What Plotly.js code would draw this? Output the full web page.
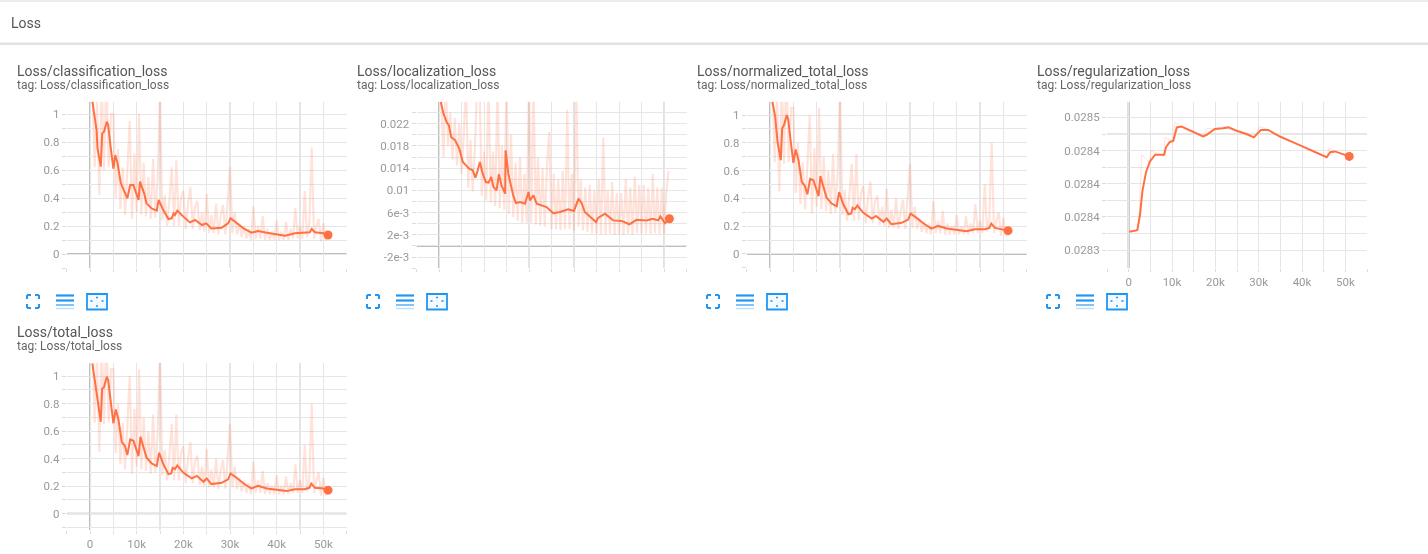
<!DOCTYPE html>
<html><head><meta charset="utf-8">
<script src="https://cdn.plot.ly/plotly-3.0.1.min.js"></script>
<style>html,body{margin:0;padding:0;background:#fff;overflow:hidden}#chart{width:1428px;height:554px;filter:blur(0.45px)}</style>
</head><body><div id="chart"></div>
<script>
// ---------- shared raw step positions (thousands of steps) ----------
const rawSteps = [0,.5,1,1.5,2,2.5,3,3.5,4,4.5, 5,5.5,6,6.5,7,7.5,8,8.5,9,9.5,
  10,10.5,11,11.5,12,12.5,13,13.5,14,14.5, 15,15.5,16,16.5,17,17.5,18,18.5,19,19.5,
  20,20.5,21,21.5,22,22.5,23,23.5,24,24.5, 25,25.5,26,26.5,27,27.5,28,28.5,29,29.5,
  30,30.5,31,31.5,32,32.5,33,33.5,34,34.5, 35,35.5,36,36.5,37,37.5,38,38.5,39,39.5,
  40,40.5,41,41.5,42,42.5,43,43.5,44,44.5, 45,45.5,46,46.5,47,47.5,48,48.5,49,49.5,
  50,50.5,51];

// ---------- classification_loss ----------
const classRaw = [1.25,1.2,.62,1.1,.42,1.25,.6,1.3,.62,1.0, 1.0,.4,.75,.32,.62,.28,.6,.95,.25,.72,
  .3,1.0,.28,.65,.27,.55,.25,.68,.26,.55, 1.15,.24,.42,.2,.38,.62,.2,.67,.2,.4,
  .45,.18,.36,.48,.18,.34,.38,.17,.3,.16, .43,.15,.28,.15,.36,.14,.27,.35,.14,.4,
  .62,.15,.3,.14,.22,.12,.2,.11,.18,.1, .34,.11,.2,.11,.27,.1,.18,.1,.16,.1,
  .24,.1,.16,.1,.23,.1,.18,.11,.33,.11, .2,.11,.45,.12,.22,.76,.11,.2,.25,.09,
  .22,.1,.14];
const classX = [.5,.9,1.4,1.6,2.3,2.6,3,3.6,3.9,4.4,5,5.4,5.9,6.6,7.3,8,8.6,9.3,9.9,10.4,10.7,11.6,12.1,13.2,14.3,14.7,15.7,16.8,17.5,17.9,18.2,18.7,20,21.4,22.5,24,24.9,26,28.2,29.6,30.1,31.4,32.9,34.6,36,37.9,40,41.8,43.9,46,47.1,47.5,48.2,50,51];
const classY = [1.09,.98,.886,.755,.624,.862,.874,.945,.92,.767,.61,.707,.648,.505,.457,.398,.493,.493,.433,.386,.517,.433,.362,.326,.31,.386,.314,.25,.255,.29,.279,.31,.267,.226,.243,.207,.219,.183,.188,.219,.255,.219,.183,.152,.164,.152,.14,.131,.148,.155,.155,.179,.155,.148,.136];

// ---------- localization_loss ----------
const locRaw = [.03,.026,.016,.03,.018,.024,.0155,.023,.0145,.022, .013,.02,.03,.0105,.019,.0098,.018,.03,.03,.009,
  .017,.0082,.03,.0078,.017,.0072,.03,.0068,.018,.0065, .03,.0058,.02,.0052,.015,.0045,.016,.0042,.013,.0042,
  .03,.0042,.03,.0038,.016,.0036,.014,.0034,.0145,.0205, .003,.013,.003,.012,.0028,.0135,.003,.0245,.003,.013,
  .0028,.03,.0035,.012,.0028,.0105,.0025,.011,.0023,.01, .0022,.012,.0021,.0195,.0021,.01,.0022,.0115,.002,.0095,
  .0021,.0095,.002,.012,.0022,.0105,.002,.0125,.0023,.011, .0022,.011,.0023,.0105,.0022,.013,.0023,.0105,.0022,.0105,
  .0022,.0095,.0135];
const locX = [.4,1,1.7,2.2,2.7,3.6,4.5,5.3,6,6.7,7.5,8.1,8.6,9.1,9.6,10.4,11,11.6,12.1,12.8,13.3,13.9,14.7,14.8,15.4,16.5,17.1,18,19.1,19.9,20.2,21,21.7,22.8,23.9,25.4,26.9,28.7,30,31,31.7,32.4,34.9,35.4,36.9,38.7,40.6,42.3,43.9,46.1,47.5,48.7,49.2,50.2,51.2];
const locY = [.0259,.0238,.0223,.0217,.0196,.019,.0175,.0151,.0145,.0139,.0136,.0123,.0136,.0151,.0133,.0115,.0114,.0124,.0106,.01,.0129,.0109,.0094,.0172,.013,.0091,.0077,.0079,.0076,.0097,.0082,.0091,.0076,.0073,.007,.0059,.0061,.0066,.0063,.0085,.0077,.0061,.0043,.0051,.0058,.0046,.0045,.0039,.0047,.0046,.0049,.0046,.0053,.0041,.0049];

// ---------- normalized_total_loss / total_loss ----------
const totalRaw = [1.3,1.25,.66,1.15,.45,1.3,.65,1.35,.66,1.05, 1.05,.44,.8,.36,.66,.32,.64,1.0,.29,.76,
  .34,1.05,.32,.7,.31,.6,.29,.72,.3,.6, 1.2,.28,.46,.24,.42,.65,.24,.72,.24,.44,
  .49,.22,.4,.52,.22,.38,.42,.21,.34,.2, .47,.19,.32,.19,.4,.18,.31,.39,.18,.44,
  .65,.19,.34,.18,.26,.16,.24,.15,.22,.14, .38,.15,.24,.15,.31,.14,.22,.14,.2,.14,
  .28,.14,.2,.14,.27,.14,.22,.15,.36,.15, .24,.15,.5,.16,.26,.8,.15,.24,.3,.13,
  .26,.13,.17];
const normX = [.5,1.1,1.6,2.3,2.6,3,3.6,3.9,4.4,5,5.5,6.1,6.8,7.5,8,8.6,9.3,10,10.4,10.8,11.6,12.1,13.2,14.3,14.8,15.7,16.8,17.4,17.7,18.2,18.7,20,21.8,22.7,24.3,25,26,28.2,29.6,30.1,31.4,32.9,34.6,36,37.9,40,42.1,43.9,46,47,47.4,48.2,50,51];
const normY = [1.096,.988,.808,.675,.904,.928,1.0,.969,.82,.656,.752,.675,.519,.488,.43,.541,.531,.447,.416,.56,.471,.406,.363,.344,.445,.358,.286,.291,.332,.322,.349,.296,.255,.274,.231,.255,.214,.224,.248,.291,.26,.219,.183,.202,.183,.171,.163,.178,.178,.188,.219,.188,.178,.168];
const totalX = [.5,1,1.6,2.3,2.6,3,3.6,3.9,4.4,5,5.5,6.1,6.8,7.5,8,8.6,9.3,10,10.4,10.8,11.6,12.1,13.2,14.3,14.8,15.7,16.8,17.4,17.7,18.2,18.7,20,21.8,22.9,24.3,25,26,28.2,29.6,30.1,31.4,32.9,34.6,36,37.9,40,42.1,43.9,46,47,47.4,48.2,50,51];
const totalY = [1.09,.97,.825,.667,.91,.92,.995,.97,.825,.655,.757,.68,.522,.49,.425,.539,.529,.449,.417,.558,.473,.408,.364,.345,.442,.359,.286,.291,.333,.323,.35,.296,.255,.274,.231,.255,.214,.223,.248,.291,.26,.218,.182,.201,.182,.17,.163,.177,.177,.187,.218,.187,.182,.17];

// ---------- regularization_loss ----------
const regRawX = [0,2,2.5,3,4.8,5.2,8,8.4,10.2,10.6,12.2,13.4,17.2,18.2,19.9,22.2,24.9,28.9,30.2,32.2,34.9,38,41,44.2,45.7,46.2,47.6,50.9];
const regRawY = [.028342,.028344,.028372,.028435,.028425,.02844,.028433,.028456,.02845,.028474,.028469,.028466,.028456,.028467,.028466,.028469,.028464,.028455,.028469,.028465,.028457,.02845,.028443,.028435,.028431,.028443,.028439,.028433];
const regX = [.15,2,2.6,3.2,4,4.9,6.1,7.2,8.2,8.6,9.4,10.3,11.1,12.2,13.4,15.3,17.2,18,19.9,21.8,23,24.9,27.2,28.9,30.5,32.2,34.9,38,41,44.2,45.7,46.5,47.6,50.9];
const regY = [.028342,.028344,.028362,.028392,.028414,.028427,.028435,.028435,.028435,.028444,.02845,.028452,.028468,.028469,.028466,.028461,.028457,.028459,.028466,.028467,.028468,.028464,.02846,.028456,.028465,.028465,.028457,.02845,.028443,.028435,.028432,.028438,.028439,.028433];

// ---------- axis ticks ----------
const stepTicks = [-5000,0,5000,10000,15000,20000,25000,30000,35000,40000,45000,50000,55000];
const stepLabels = ["","0","","10k","","20k","","30k","","40k","","50k",""];
const stepBlank = ["","","","","","","","","","","","",""];
const lossTicks = [-.1,0,.1,.2,.3,.4,.5,.6,.7,.8,.9,1];
const lossLabels = ["","0","","0.2","","0.4","","0.6","","0.8","","1"];
const locTicks = [-.004,-.002,0,.002,.004,.006,.008,.01,.012,.014,.016,.018,.02,.022,.024];
const locLabels = ["","-2e-3","","2e-3","","6e-3","","0.01","","0.014","","0.018","","0.022",""];
const regTicks = [.02832,.02834,.02836,.02838,.0284,.02842,.02844,.02846,.02848];
const regLabels = ["0.0283","","0.0284","","0.0284","","0.0284","","0.0285"];

const names = ["classification_loss","localization_loss","normalized_total_loss","regularization_loss","total_loss"];
const darkSteps = [[0,15,30,45],[20,30,50],[0,15,30,45],[],[0,15,30,45]];

const W = 1428, H = 554;
const fx = p => p / W, fy = p => 1 - p / H;
const panels = [
  {left:66.7, right:346.7, top:101.7, bottom:268.3, yr:[-.102,1.088], yt:lossTicks, yl:lossLabels, xl:stepBlank, rawX:rawSteps, raw:classRaw, sx:classX, sy:classY, tx:15, ty:71, rawW:2.1},
  {left:416.5,right:686.5, top:101.7, bottom:268.3, yr:[-.00402,.02595], yt:locTicks, yl:locLabels, xl:stepBlank, rawX:rawSteps, raw:locRaw, sx:locX, sy:locY, tx:355, ty:71, rawW:2.1},
  {left:746.7,right:1026.7,top:101.7, bottom:268.3, yr:[-.103,1.096], yt:lossTicks, yl:lossLabels, xl:stepBlank, rawX:rawSteps, raw:totalRaw, sx:normX, sy:normY, tx:695, ty:71, rawW:2.1},
  {left:1107, right:1367,  top:101.7, bottom:268.3, yr:[.028298,.028499], yt:regTicks, yl:regLabels, xl:stepLabels, rawX:regRawX, raw:regRawY, sx:regX, sy:regY, tx:1035, ty:71, rawW:1},
  {left:66.7, right:346.7, top:362.7, bottom:530,   yr:[-.12,1.097], yt:lossTicks, yl:lossLabels, xl:stepLabels, rawX:rawSteps, raw:totalRaw, sx:totalX, sy:totalY, tx:15, ty:332, rawW:2.1}
];

const ORANGE = '#ff7043';
const traces = [], annotations = [], shapes = [];
const layout = {width:W, height:H, margin:{l:0,r:0,t:0,b:0}, paper_bgcolor:'#fff', plot_bgcolor:'#fff', showlegend:false,
  font:{family:'Roboto, sans-serif'}};

// header bands and title
shapes.push({type:'rect',xref:'paper',yref:'paper',x0:0,x1:1,y0:fy(2),y1:fy(0),fillcolor:'#ececec',line:{width:0},layer:'below'});
shapes.push({type:'rect',xref:'paper',yref:'paper',x0:0,x1:1,y0:fy(45),y1:fy(42.5),fillcolor:'#e2e2e2',line:{width:0},layer:'below'});
annotations.push({text:'Loss',xref:'paper',yref:'paper',x:fx(9),y:fy(23),xanchor:'left',yanchor:'middle',showarrow:false,font:{size:14,color:'#555',family:'Roboto, sans-serif'}});

function iconLine(x0,y0,x1,y1,w,c){shapes.push({type:'line',xref:'paper',yref:'paper',x0:fx(x0),x1:fx(x1),y0:fy(y0),y1:fy(y1),line:{color:c||'#2196f3',width:w}});}

panels.forEach((p,i) => {
  const n = i === 0 ? '' : String(i+1);
  const xa = 'x'+n, ya = 'y'+n;
  layout['xaxis'+n] = {domain:[fx(p.left),fx(p.right)], range:[-5000,55000], anchor:ya, tickmode:'array', tickvals:stepTicks, ticktext:p.xl,
    showgrid:true, gridcolor:'#e6e6e6', gridwidth:1, zeroline:false, showline:false, ticks:'outside', ticklen:3, tickcolor:'#dcdcdc',
    tickfont:{size:11.5,color:'#999',family:'Roboto, sans-serif'}, fixedrange:true};
  layout['yaxis'+n] = {domain:[fy(p.bottom),fy(p.top)], range:p.yr, anchor:xa, tickmode:'array', tickvals:p.yt, ticktext:p.yl,
    showgrid:true, gridcolor:'#e6e6e6', gridwidth:1, zeroline:false, showline:false, ticks:'outside', ticklen:4, tickcolor:'#dcdcdc',
    tickfont:{size:11.5,color:'#999',family:'Roboto, sans-serif'}, fixedrange:true};

  // emphasised grid lines
  if (i !== 3) shapes.push({type:'line',xref:xa,yref:ya,x0:-5000,x1:55000,y0:0,y1:0,line:{color:'#aaa',width:1.4},layer:'below'});
  shapes.push({type:'line',xref:xa,yref:ya,x0:0,x1:0,y0:p.yr[0],y1:p.yr[1],line:{color:i===3?'#c4c4c4':'#a8a8a8',width:i===3?2.4:1.5},layer:'below'});
  darkSteps[i].forEach(k => { if (k) shapes.push({type:'line',xref:xa,yref:ya,x0:k*1000,x1:k*1000,y0:p.yr[0],y1:p.yr[1],line:{color:'#cfcfcf',width:1.2},layer:'below'}); });
  if (i === 3) [.02834,.02846].forEach(v => shapes.push({type:'line',xref:xa,yref:ya,x0:-5000,x1:55000,y0:v,y1:v,line:{color:'#cfcfcf',width:1.2},layer:'below'}));

  traces.push({x:p.rawX.map(k=>k*1000), y:p.raw, xaxis:xa, yaxis:ya, mode:'lines', line:{color:ORANGE,width:p.rawW}, opacity:.2, hoverinfo:'skip'});
  traces.push({x:p.sx.map(k=>k*1000), y:p.sy, xaxis:xa, yaxis:ya, mode:'lines', line:{color:ORANGE,width:2}, hoverinfo:'skip'});
  traces.push({x:[p.sx[p.sx.length-1]*1000], y:[p.sy[p.sy.length-1]], xaxis:xa, yaxis:ya, mode:'markers', marker:{color:ORANGE,size:9}, hoverinfo:'skip'});

  annotations.push({text:'Loss/'+names[i],xref:'paper',yref:'paper',x:fx(p.tx),y:fy(p.ty),xanchor:'left',yanchor:'middle',showarrow:false,font:{size:14,color:'#555',family:'Roboto, sans-serif'}});
  annotations.push({text:'tag: Loss/'+names[i],xref:'paper',yref:'paper',x:fx(p.tx),y:fy(p.ty+14),xanchor:'left',yanchor:'middle',showarrow:false,font:{size:12,color:'#666',family:'Roboto, sans-serif'}});

  // toolbar icons (first row only)
  if (i < 4) {
    const o = 340*i;
    const c = [[27,295,27,299,27,295,31,295],[39,295,39,299,39,295,35,295],[27,308,27,304,27,308,31,308],[39,308,39,304,39,308,35,308]];
    c.forEach(s => { iconLine(s[0]+o,s[1],s[2]+o,s[3],2); iconLine(s[4]+o,s[5],s[6]+o,s[7],2); });
    iconLine(56+o,295.5,74+o,295.5,2.2);
    iconLine(56+o,300.5,74+o,300.5,2.2);
    iconLine(56+o,305,74+o,305,1.6,'#64b5f6');
    iconLine(56+o,308.5,74+o,308.5,1.4,'#bbdefb');
    shapes.push({type:'rect',xref:'paper',yref:'paper',x0:fx(87+o),x1:fx(107+o),y0:fy(309.5),y1:fy(294),line:{color:'#2196f3',width:1.8},fillcolor:'#f4faff'});
    iconLine(96+o,297.5,98+o,297.5,1.6);
    iconLine(96+o,306,98+o,306,1.6);
    iconLine(90.5+o,301,92.5+o,301,1.6);
    iconLine(101.5+o,301,103.5+o,301,1.6);
  }
});
layout.annotations = annotations;
layout.shapes = shapes;
Plotly.newPlot('chart', traces, layout, {displayModeBar:false, staticPlot:true});
</script></body></html>
